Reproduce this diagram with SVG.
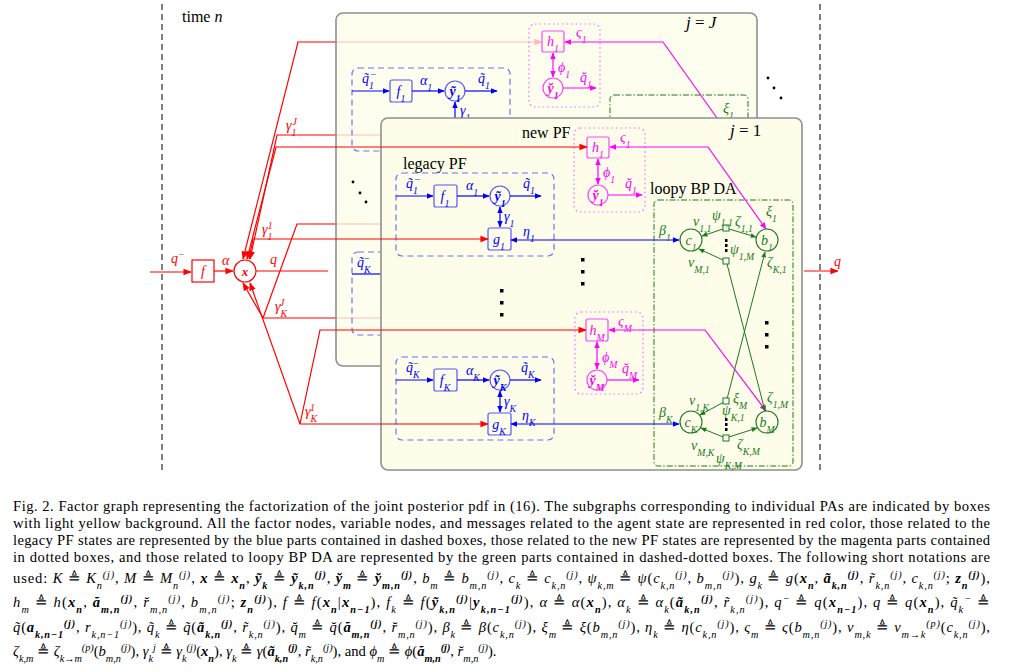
<svg xmlns="http://www.w3.org/2000/svg" width="1023" height="672" viewBox="0 0 1023 672">
<style>
text{font-family:"Liberation Serif","DejaVu Serif",serif}
.i{font-style:italic}
.bi{font-weight:bold;font-style:italic}
.s{font-size:70%;baseline-shift:sub}
.p{font-size:70%;baseline-shift:super}
.r{fill:#f00}.bl{fill:#00f}.mg{fill:#f0f}.gr{fill:#1a7a1a}
.L{font-size:14px;font-style:italic}
.rl{stroke:#f00;fill:none;stroke-width:1.2}
.bln{stroke:#00f;fill:none;stroke-width:1.2}
.mln{stroke:#f0f;fill:none;stroke-width:1.2}
.gln{stroke:#1a7a1a;fill:none;stroke-width:1}
.box{fill:#fdfdea;stroke:#8f8f8f;stroke-width:1.6}
.bd{fill:none;stroke:#6f6fff;stroke-dasharray:6,4;stroke-width:1.2}
.md{fill:none;stroke:#f6f;stroke-dasharray:1.5,3;stroke-width:1.2}
.gd{fill:none;stroke:#1a7a1a;stroke-dasharray:6,2,1.5,2;stroke-width:1}
.bn{fill:#fdfdea;stroke:#55f;stroke-width:1.2}
.mn{fill:#fdfdea;stroke:#f4f;stroke-width:1.2}
.rn{fill:#fff;stroke:#f00;stroke-width:1.2}
.gn{fill:#fdfdea;stroke:#1a7a1a;stroke-width:1.1}
.cap{font-size:14.6px;fill:#000}
</style>
<defs>
<marker id="ar" viewBox="0 0 10 10" refX="9" refY="5" markerWidth="7" markerHeight="7" orient="auto-start-reverse"><path d="M0,1L10,5L0,9z" fill="#f00"/></marker>
<marker id="ab" viewBox="0 0 10 10" refX="9" refY="5" markerWidth="6" markerHeight="6" orient="auto-start-reverse"><path d="M0,1L10,5L0,9z" fill="#00f"/></marker>
<marker id="am" viewBox="0 0 10 10" refX="9" refY="5" markerWidth="6" markerHeight="6" orient="auto-start-reverse"><path d="M0,1L10,5L0,9z" fill="#f0f"/></marker>
<marker id="ag" viewBox="0 0 10 10" refX="9" refY="5" markerWidth="6" markerHeight="6" orient="auto-start-reverse"><path d="M0,1L10,5L0,9z" fill="#1a7a1a"/></marker>
</defs>

<rect width="1023" height="672" fill="#fff"/>
<g id="timeline">
<line x1="162" y1="4" x2="162" y2="472" stroke="#000" stroke-dasharray="6,4"/>
<line x1="820" y1="4" x2="820" y2="472" stroke="#000" stroke-dasharray="6,4"/>
<text x="182" y="22" font-size="16">time <tspan class="i">n</tspan></text>
</g>

<g id="connectors-back">
<path class="rl" d="M542,42 L298,42 L243,259" marker-start="url(#ar)" marker-end="url(#ar)"/>
<path class="rl" d="M390,135 L277,135 L250,259" marker-end="url(#ar)"/>
<path class="rl" d="M390,224 L297,224 L263,318"/>
<path class="rl" d="M390,318 L263,318 L243,283" marker-end="url(#ar)"/>
</g>

<g id="box-J">
<rect class="box" x="336" y="13" width="421" height="353" rx="7" fill-opacity="0.75"/>
<text x="686" y="28" font-size="17" class="i">j <tspan font-style="normal">= </tspan>J</text>
</g>
<g id="legacy-J">
<rect class="bd" x="352" y="68" width="158" height="83" rx="6"/>
<text x="362" y="83" class="L bl">q̃<tspan class="s">1</tspan><tspan class="p" dx="-4">−</tspan></text>
<path class="bln" d="M352,91H389" marker-end="url(#ab)"/>
<rect class="bn" x="390" y="80" width="22" height="22" rx="2"/>
<text x="401" y="96" text-anchor="middle" class="L bl">f<tspan class="s">1</tspan></text>
<text x="420" y="85" class="L bl">α<tspan class="s">1</tspan></text>
<path class="bln" d="M412,91H444" marker-end="url(#ab)"/>
<circle class="bn" cx="455" cy="91" r="10"/>
<text x="455" y="96" text-anchor="middle" class="L bl" font-weight="bold">ỹ<tspan class="s">1</tspan></text>
<path class="bln" d="M465,91H497" marker-end="url(#ab)"/>
<text x="478" y="83" class="L bl">q̃<tspan class="s">1</tspan></text>
<path class="bln" d="M455,118V102" marker-end="url(#ab)"/>
<text x="460" y="115" class="L bl">γ<tspan class="s">1</tspan></text>
</g>
<g id="newpf-J">
<rect class="md" x="529" y="24" width="71" height="83" rx="6"/>
<rect class="mn" x="542" y="31" width="22" height="21" rx="2"/>
<text x="553" y="46" text-anchor="middle" class="L mg">h<tspan class="s">1</tspan></text>
<text x="576" y="37" class="L mg">ς<tspan class="s">1</tspan></text>
<path class="mln" d="M553,53V77" marker-start="url(#am)" marker-end="url(#am)"/>
<text x="558" y="72" class="L mg">ϕ<tspan class="s">1</tspan></text>
<circle class="mn" cx="553" cy="88" r="10"/>
<text x="553" y="93" text-anchor="middle" class="L mg" font-weight="bold">y̆<tspan class="s">1</tspan></text>
<path class="mln" d="M563,88H596" marker-end="url(#am)"/>
<text x="580" y="82" class="L mg">q̆<tspan class="s">1</tspan></text>
<path class="mln" d="M717,118 L663,42 L565,42" marker-end="url(#am)"/>
</g>
<g id="da-J">
<rect class="gd" x="610" y="95" width="138" height="60" rx="4"/>
<text x="723" y="113" class="L gr">ξ<tspan class="s">1</tspan></text>
</g>
<g id="legacyK-J">
<rect class="bd" x="352" y="252" width="60" height="83" rx="6"/>
<text x="357" y="267" class="L bl">q̃<tspan class="s">K</tspan><tspan class="p" dx="-7">−</tspan></text>
<path class="bln" d="M352,274H381"/>
</g>
<g id="dots-back" fill="#000">
<circle cx="353" cy="182" r="1.4"/><circle cx="360" cy="193" r="1.4"/><circle cx="366" cy="202" r="1.4"/>
<circle cx="768" cy="78" r="1.4"/><circle cx="774" cy="88" r="1.4"/><circle cx="781" cy="98" r="1.4"/>
</g>

<g id="box-1">
<rect class="box" x="381" y="118" width="421" height="352" rx="7"/>
<text x="730" y="136" font-size="17" class="i">j <tspan font-style="normal">= 1</tspan></text>
<text x="522" y="138" font-size="16">new PF</text>
<text x="403" y="169" font-size="16">legacy PF</text>
<text x="650" y="194" font-size="16">loopy BP DA</text>
</g>

<g id="legacy-1">
<rect class="bd" x="396" y="173" width="158" height="83" rx="6"/>
<text x="406" y="188" class="L bl">q̃<tspan class="s">1</tspan><tspan class="p" dx="-4">−</tspan></text>
<path class="bln" d="M396,196H433" marker-end="url(#ab)"/>
<rect class="bn" x="434" y="185" width="23" height="22" rx="2"/>
<text x="445" y="201" text-anchor="middle" class="L bl">f<tspan class="s">1</tspan></text>
<text x="466" y="190" class="L bl">α<tspan class="s">1</tspan></text>
<path class="bln" d="M457,196H489" marker-end="url(#ab)"/>
<circle class="bn" cx="500" cy="196" r="10"/>
<text x="500" y="201" text-anchor="middle" class="L bl" font-weight="bold">ỹ<tspan class="s">1</tspan></text>
<path class="bln" d="M510,196H541" marker-end="url(#ab)"/>
<text x="523" y="188" class="L bl">q̃<tspan class="s">1</tspan></text>
<path class="bln" d="M500,207V227" marker-start="url(#ab)" marker-end="url(#ab)"/>
<text x="504" y="221" class="L bl">γ<tspan class="s">1</tspan></text>
<rect class="bn" x="488" y="228" width="23" height="22" rx="2"/>
<text x="499" y="244" text-anchor="middle" class="L bl">g<tspan class="s">1</tspan></text>
<text x="523" y="236" class="L bl">η<tspan class="s">1</tspan></text>
</g>
<g id="legacy-K">
<rect class="bd" x="396" y="357" width="158" height="83" rx="6"/>
<text x="406" y="372" class="L bl">q̃<tspan class="s">K</tspan><tspan class="p" dx="-7">−</tspan></text>
<path class="bln" d="M396,380H433" marker-end="url(#ab)"/>
<rect class="bn" x="434" y="369" width="23" height="22" rx="2"/>
<text x="445" y="385" text-anchor="middle" class="L bl">f<tspan class="s">K</tspan></text>
<text x="466" y="375" class="L bl">α<tspan class="s">K</tspan></text>
<path class="bln" d="M457,380H489" marker-end="url(#ab)"/>
<circle class="bn" cx="500" cy="380" r="10"/>
<text x="500" y="385" text-anchor="middle" class="L bl" font-weight="bold">ỹ<tspan class="s">K</tspan></text>
<path class="bln" d="M510,380H541" marker-end="url(#ab)"/>
<text x="521" y="372" class="L bl">q̃<tspan class="s">K</tspan></text>
<path class="bln" d="M500,391V412" marker-start="url(#ab)" marker-end="url(#ab)"/>
<text x="504" y="406" class="L bl">γ<tspan class="s">K</tspan></text>
<rect class="bn" x="488" y="413" width="23" height="22" rx="2"/>
<text x="499" y="429" text-anchor="middle" class="L bl">g<tspan class="s">K</tspan></text>
<text x="522" y="420" class="L bl">η<tspan class="s">K</tspan></text>
</g>
<g id="newpf-1">
<rect class="md" x="574" y="128" width="71" height="84" rx="6"/>
<rect class="mn" x="587" y="137" width="22" height="21" rx="2"/>
<text x="598" y="152" text-anchor="middle" class="L mg">h<tspan class="s">1</tspan></text>
<text x="620" y="142" class="L mg">ς<tspan class="s">1</tspan></text>
<path class="mln" d="M598,159V184" marker-start="url(#am)" marker-end="url(#am)"/>
<text x="603" y="177" class="L mg">ϕ<tspan class="s">1</tspan></text>
<circle class="mn" cx="598" cy="195" r="10"/>
<text x="598" y="200" text-anchor="middle" class="L mg" font-weight="bold">y̆<tspan class="s">1</tspan></text>
<path class="mln" d="M608,195H642" marker-end="url(#am)"/>
<text x="625" y="188" class="L mg">q̆<tspan class="s">1</tspan></text>
</g>
<g id="newpf-M">
<rect class="md" x="575" y="312" width="68" height="82" rx="6"/>
<rect class="mn" x="586" y="319" width="22" height="22" rx="2"/>
<text x="597" y="335" text-anchor="middle" class="L mg">h<tspan class="s">M</tspan></text>
<text x="618" y="326" class="L mg">ς<tspan class="s">M</tspan></text>
<path class="mln" d="M597,342V369" marker-start="url(#am)" marker-end="url(#am)"/>
<text x="602" y="362" class="L mg">ϕ<tspan class="s">M</tspan></text>
<circle class="mn" cx="597" cy="380" r="10"/>
<text x="597" y="385" text-anchor="middle" class="L mg" font-weight="bold">y̆<tspan class="s">M</tspan></text>
<path class="mln" d="M607,380H639" marker-end="url(#am)"/>
<text x="622" y="373" class="L mg">q̆<tspan class="s">M</tspan></text>
</g>
<g id="dots-front" fill="#000">
<rect x="581" y="258" width="3.5" height="3.5"/><rect x="581" y="270" width="3.5" height="3.5"/><rect x="581" y="282" width="3.5" height="3.5"/>
<rect x="500" y="289" width="3.5" height="3.5"/><rect x="500" y="301" width="3.5" height="3.5"/><rect x="500" y="313" width="3.5" height="3.5"/>
<rect x="765" y="321" width="3.5" height="3.5"/><rect x="765" y="333" width="3.5" height="3.5"/><rect x="765" y="345" width="3.5" height="3.5"/>
<rect x="725" y="239" width="2.5" height="3"/><rect x="725" y="244" width="2.5" height="3"/><rect x="725" y="249" width="2.5" height="3"/>
<rect x="725" y="418" width="2.5" height="3"/><rect x="725" y="423" width="2.5" height="3"/><rect x="725" y="428" width="2.5" height="3"/>
</g>

<g id="da-1">
<rect class="gd" x="654" y="200" width="139" height="266" rx="4"/>
</g>

<g id="connectors">
<path class="bln" d="M511,240H679" marker-start="url(#ab)" marker-end="url(#ab)"/>
<path class="bln" d="M511,424H679" stroke="#77f" marker-start="url(#ab)" marker-end="url(#ab)"/>
<path class="mln" d="M766,229 L708,147 L610,147" marker-start="url(#am)" marker-end="url(#am)"/>
<path class="mln" d="M766,411 L705,330 L609,330" marker-start="url(#am)" marker-end="url(#am)"/>
<path class="gln" d="M723,229 L702,236" marker-end="url(#ag)"/>
<path class="gln" d="M729,229 L756,237" marker-end="url(#ag)"/>
<path class="gln" d="M723,260 L699,249" marker-end="url(#ag)"/>
<path class="gln" d="M727,264 L765,411" marker-end="url(#ag)"/>
<path class="gln" d="M724,402 L700,415" marker-end="url(#ag)"/>
<path class="gln" d="M727,399 L765,252" marker-end="url(#ag)"/>
<path class="gln" d="M723,437 L701,428" marker-end="url(#ag)"/>
<path class="gln" d="M729,437 L757,428" marker-end="url(#ag)"/>
<path class="rl" d="M587,147 L276,147 L247,259" marker-start="url(#ar)" marker-end="url(#ar)"/>
<path class="rl" d="M488,239 L253,239 L249,259" marker-start="url(#ar)"/>
<path class="rl" d="M586,330 L320,330 L300,424" marker-start="url(#ar)"/>
<path class="rl" d="M488,424 L300,424 L250,283" marker-start="url(#ar)" marker-end="url(#ar)"/>
<path class="rl" d="M150,272H191" marker-end="url(#ar)"/>
<path class="rl" d="M214,271H233" marker-end="url(#ar)"/>
<path class="rl" d="M256,271H328"/>
<path class="rl" d="M804,271H838" marker-end="url(#ar)"/>
</g>

<g id="da-nodes">
<rect x="723" y="225" width="6" height="6" fill="#fff" stroke="#1a7a1a"/>
<rect x="723" y="258" width="6" height="6" fill="#fff" stroke="#1a7a1a"/>
<rect x="723" y="398" width="6" height="6" fill="#fff" stroke="#1a7a1a"/>
<rect x="723" y="435" width="6" height="6" fill="#fff" stroke="#1a7a1a"/>
<circle class="gn" cx="691" cy="240" r="11"/><text x="691" y="245" text-anchor="middle" class="L gr">c<tspan class="s">1</tspan></text>
<circle class="gn" cx="767" cy="240" r="11"/><text x="767" y="245" text-anchor="middle" class="L gr">b<tspan class="s">1</tspan></text>
<circle class="gn" cx="691" cy="422" r="11"/><text x="691" y="427" text-anchor="middle" class="L gr">c<tspan class="s">K</tspan></text>
<circle class="gn" cx="767" cy="422" r="11"/><text x="767" y="427" text-anchor="middle" class="L gr">b<tspan class="s">M</tspan></text>
<text x="712" y="220" class="L gr">ψ<tspan class="s">1,1</tspan></text>
<text x="693" y="226" class="L gr">ν<tspan class="s">1,1</tspan></text>
<text x="735" y="226" class="L gr">ζ<tspan class="s">1,1</tspan></text>
<text x="766" y="216" class="L gr">ξ<tspan class="s">1</tspan></text>
<text x="659" y="235" class="L gr">β<tspan class="s">1</tspan></text>
<text x="730" y="254" class="L gr">ψ<tspan class="s">1,M</tspan></text>
<text x="688" y="267" class="L gr">ν<tspan class="s">M,1</tspan></text>
<text x="767" y="267" class="L gr">ζ<tspan class="s">K,1</tspan></text>
<text x="767" y="402" class="L gr">ζ<tspan class="s">1,M</tspan></text>
<text x="733" y="403" class="L gr">ξ<tspan class="s">M</tspan></text>
<text x="722" y="415" class="L gr">ψ<tspan class="s">K,1</tspan></text>
<text x="689" y="405" class="L gr">ν<tspan class="s">1,K</tspan></text>
<text x="659" y="417" class="L gr">β<tspan class="s">K</tspan></text>
<text x="691" y="450" class="L gr">ν<tspan class="s">M,K</tspan></text>
<text x="737" y="449" class="L gr">ζ<tspan class="s">K,M</tspan></text>
<text x="716" y="463" class="L gr">ψ<tspan class="s">K,M</tspan></text>
</g>

<g id="agent">
<rect x="192" y="260" width="22" height="22" fill="#fff" stroke="#f00" stroke-width="1.2"/>
<text x="203" y="276" text-anchor="middle" class="L r">f</text>
<circle class="rn" cx="245" cy="271" r="11"/>
<text x="245" y="276" text-anchor="middle" class="r" font-size="13" font-weight="bold" font-style="italic">x</text>
<text x="171" y="263" class="L r">q<tspan class="p">−</tspan></text>
<text x="222" y="265" class="L r">α</text>
<text x="270" y="264" class="L r">q</text>
<text x="834" y="266" class="L r">q</text>
<text x="286" y="130" class="L r">γ<tspan class="s">1</tspan><tspan class="p" dx="-4">J</tspan></text>
<text x="262" y="234" class="L r">γ<tspan class="s">1</tspan><tspan class="p" dx="-4">1</tspan></text>
<text x="275" y="311" class="L r">γ<tspan class="s">K</tspan><tspan class="p" dx="-7">J</tspan></text>
<text x="305" y="416" class="L r">γ<tspan class="s">K</tspan><tspan class="p" dx="-7">1</tspan></text>
</g>

<g id="caption" class="cap">
<text x="13" y="511" class="cap" textLength="977" lengthAdjust="spacing">Fig. 2.   Factor graph representing the factorization of the joint posterior pdf in (16). The subgraphs corresponding to individual PAs are indicated by boxes</text>
<text x="13" y="528" class="cap" textLength="977" lengthAdjust="spacing">with light yellow background. All the factor nodes, variable nodes, and messages related to the agent state are represented in red color, those related to the</text>
<text x="13" y="545" class="cap" textLength="977" lengthAdjust="spacing">legacy PF states are represented by the blue parts contained in dashed boxes, those related to the new PF states are represented by the magenta parts contained</text>
<text x="13" y="562" class="cap" textLength="977" lengthAdjust="spacing">in dotted boxes, and those related to loopy BP DA are represented by the green parts contained in dashed-dotted boxes. The following short notations are</text>
<text x="13" y="583" class="cap" textLength="977" lengthAdjust="spacing">used: <tspan class="i">K</tspan> ≜ <tspan class="i">K<tspan class="s">n</tspan><tspan class="p">(j)</tspan></tspan>, <tspan class="i">M</tspan> ≜ <tspan class="i">M<tspan class="s">n</tspan><tspan class="p">(j)</tspan></tspan>, <tspan class="bi">x</tspan> ≜ <tspan class="bi">x<tspan class="s">n</tspan></tspan>, <tspan class="bi">ỹ<tspan class="s">k</tspan></tspan> ≜ <tspan class="bi">ỹ<tspan class="s">k,n</tspan><tspan class="p">(j)</tspan></tspan>, <tspan class="bi">y̆<tspan class="s">m</tspan></tspan> ≜ <tspan class="bi">y̆<tspan class="s">m,n</tspan><tspan class="p">(j)</tspan></tspan>, <tspan class="i">b<tspan class="s">m</tspan></tspan> ≜ <tspan class="i">b<tspan class="s">m,n</tspan><tspan class="p">(j)</tspan></tspan>, <tspan class="i">c<tspan class="s">k</tspan></tspan> ≜ <tspan class="i">c<tspan class="s">k,n</tspan><tspan class="p">(j)</tspan></tspan>, <tspan class="i">ψ<tspan class="s">k,m</tspan></tspan> ≜ <tspan class="i">ψ</tspan>(<tspan class="i">c<tspan class="s">k,n</tspan><tspan class="p">(j)</tspan></tspan>, <tspan class="i">b<tspan class="s">m,n</tspan><tspan class="p">(j)</tspan></tspan>), <tspan class="i">g<tspan class="s">k</tspan></tspan> ≜ <tspan class="i">g</tspan>(<tspan class="bi">x<tspan class="s">n</tspan></tspan>, <tspan class="bi">ã<tspan class="s">k,n</tspan><tspan class="p">(j)</tspan></tspan>, <tspan class="i">r̃<tspan class="s">k,n</tspan><tspan class="p">(j)</tspan></tspan>, <tspan class="i">c<tspan class="s">k,n</tspan><tspan class="p">(j)</tspan></tspan>; <tspan class="bi">z<tspan class="s">n</tspan><tspan class="p">(j)</tspan></tspan>),</text>
<text x="13" y="607" class="cap" textLength="977" lengthAdjust="spacing"><tspan class="i">h<tspan class="s">m</tspan></tspan> ≜ <tspan class="i">h</tspan>(<tspan class="bi">x<tspan class="s">n</tspan></tspan>, <tspan class="bi">ă<tspan class="s">m,n</tspan><tspan class="p">(j)</tspan></tspan>, <tspan class="i">r̆<tspan class="s">m,n</tspan><tspan class="p">(j)</tspan></tspan>, <tspan class="i">b<tspan class="s">m,n</tspan><tspan class="p">(j)</tspan></tspan>; <tspan class="bi">z<tspan class="s">n</tspan><tspan class="p">(j)</tspan></tspan>), <tspan class="i">f</tspan> ≜ <tspan class="i">f</tspan>(<tspan class="bi">x<tspan class="s">n</tspan></tspan>|<tspan class="bi">x<tspan class="s">n−1</tspan></tspan>), <tspan class="i">f<tspan class="s">k</tspan></tspan> ≜ <tspan class="i">f</tspan>(<tspan class="bi">ỹ<tspan class="s">k,n</tspan><tspan class="p">(j)</tspan></tspan>|<tspan class="bi">y<tspan class="s">k,n−1</tspan><tspan class="p">(j)</tspan></tspan>), <tspan class="i">α</tspan> ≜ <tspan class="i">α</tspan>(<tspan class="bi">x<tspan class="s">n</tspan></tspan>), <tspan class="i">α<tspan class="s">k</tspan></tspan> ≜ <tspan class="i">α<tspan class="s">k</tspan></tspan>(<tspan class="bi">ã<tspan class="s">k,n</tspan><tspan class="p">(j)</tspan></tspan>, <tspan class="i">r̃<tspan class="s">k,n</tspan><tspan class="p">(j)</tspan></tspan>), <tspan class="i">q<tspan class="p">−</tspan></tspan> ≜ <tspan class="i">q</tspan>(<tspan class="bi">x<tspan class="s">n−1</tspan></tspan>), <tspan class="i">q</tspan> ≜ <tspan class="i">q</tspan>(<tspan class="bi">x<tspan class="s">n</tspan></tspan>), <tspan class="i">q̃<tspan class="s">k</tspan><tspan class="p">−</tspan></tspan> ≜</text>
<text x="13" y="632" class="cap" textLength="977" lengthAdjust="spacing"><tspan class="i">q̃</tspan>(<tspan class="bi">a<tspan class="s">k,n−1</tspan><tspan class="p">(j)</tspan></tspan>, <tspan class="i">r<tspan class="s">k,n−1</tspan><tspan class="p">(j)</tspan></tspan>), <tspan class="i">q̃<tspan class="s">k</tspan></tspan> ≜ <tspan class="i">q̃</tspan>(<tspan class="bi">ã<tspan class="s">k,n</tspan><tspan class="p">(j)</tspan></tspan>, <tspan class="i">r̃<tspan class="s">k,n</tspan><tspan class="p">(j)</tspan></tspan>), <tspan class="i">q̆<tspan class="s">m</tspan></tspan> ≜ <tspan class="i">q̆</tspan>(<tspan class="bi">ă<tspan class="s">m,n</tspan><tspan class="p">(j)</tspan></tspan>, <tspan class="i">r̆<tspan class="s">m,n</tspan><tspan class="p">(j)</tspan></tspan>), <tspan class="i">β<tspan class="s">k</tspan></tspan> ≜ <tspan class="i">β</tspan>(<tspan class="i">c<tspan class="s">k,n</tspan><tspan class="p">(j)</tspan></tspan>), <tspan class="i">ξ<tspan class="s">m</tspan></tspan> ≜ <tspan class="i">ξ</tspan>(<tspan class="i">b<tspan class="s">m,n</tspan><tspan class="p">(j)</tspan></tspan>), <tspan class="i">η<tspan class="s">k</tspan></tspan> ≜ <tspan class="i">η</tspan>(<tspan class="i">c<tspan class="s">k,n</tspan><tspan class="p">(j)</tspan></tspan>), <tspan class="i">ς<tspan class="s">m</tspan></tspan> ≜ <tspan class="i">ς</tspan>(<tspan class="i">b<tspan class="s">m,n</tspan><tspan class="p">(j)</tspan></tspan>), <tspan class="i">ν<tspan class="s">m,k</tspan></tspan> ≜ <tspan class="i">ν<tspan class="s">m→k</tspan><tspan class="p">(p)</tspan></tspan>(<tspan class="i">c<tspan class="s">k,n</tspan><tspan class="p">(j)</tspan></tspan>),</text>
<text x="13" y="656" class="cap"><tspan class="i">ζ<tspan class="s">k,m</tspan></tspan> ≜ <tspan class="i">ζ<tspan class="s">k→m</tspan><tspan class="p">(p)</tspan></tspan>(<tspan class="i">b<tspan class="s">m,n</tspan><tspan class="p">(j)</tspan></tspan>), <tspan class="i">γ<tspan class="s">k</tspan><tspan class="p">j</tspan></tspan> ≜ <tspan class="i">γ<tspan class="s">k</tspan><tspan class="p">(j)</tspan></tspan>(<tspan class="bi">x<tspan class="s">n</tspan></tspan>), <tspan class="i">γ<tspan class="s">k</tspan></tspan> ≜ <tspan class="i">γ</tspan>(<tspan class="bi">ã<tspan class="s">k,n</tspan><tspan class="p">(j)</tspan></tspan>, <tspan class="i">r̃<tspan class="s">k,n</tspan><tspan class="p">(j)</tspan></tspan>), and <tspan class="i">ϕ<tspan class="s">m</tspan></tspan> ≜ <tspan class="i">ϕ</tspan>(<tspan class="bi">ă<tspan class="s">m,n</tspan><tspan class="p">(j)</tspan></tspan>, <tspan class="i">r̆<tspan class="s">m,n</tspan><tspan class="p">(j)</tspan></tspan>).</text>
</g>
</svg>
